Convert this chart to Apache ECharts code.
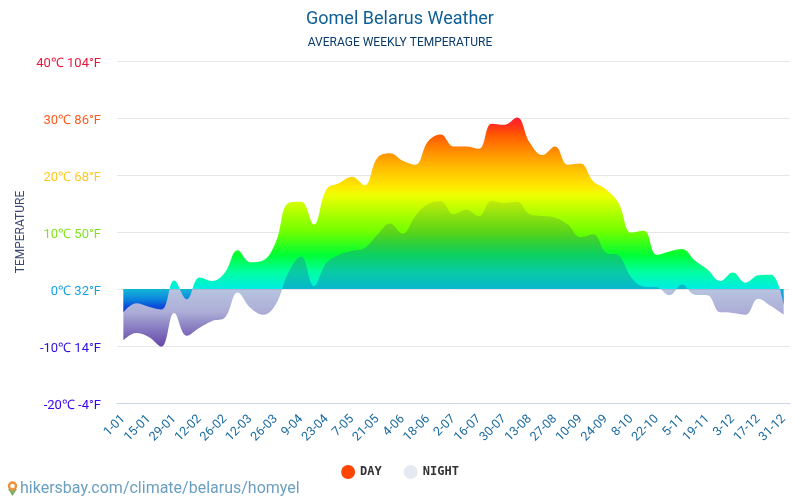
<!DOCTYPE html>
<html>
<head>
<meta charset="utf-8">
<style>html,body{margin:0;padding:0;background:#fff}#chart{width:800px;height:500px}</style>
<script src="https://cdn.jsdelivr.net/npm/echarts@6/dist/echarts.min.js"></script>
</head>
<body>
<div id="chart"></div>
<script>
var weeks = ['1-01','8-01','15-01','22-01','29-01','5-02','12-02','19-02','26-02','5-03','12-03','19-03','26-03',
    '2-04','9-04','16-04','23-04','30-04','7-05','14-05','21-05','28-05','4-06','11-06','18-06','25-06',
    '2-07','9-07','16-07','23-07','30-07','6-08','13-08','20-08','27-08','3-09','10-09','17-09','24-09',
    '1-10','8-10','15-10','22-10','29-10','5-11','12-11','19-11','26-11','3-12','10-12','17-12','24-12','31-12'];

var dayTemp = [-4.1,-2.5,-3.1,-3.6,1.5,-1.8,2.0,1.4,2.9,6.8,4.7,5.0,8.2,
    15.1,15.3,11.3,17.5,18.6,19.7,18.2,23.0,23.8,22.5,21.8,25.9,27.1,
    25.0,25.0,24.6,29.0,28.8,30.1,25.7,23.5,25.0,21.8,22.0,18.9,17.5,
    15.1,9.9,10.2,6.0,6.6,7.0,5.0,3.4,1.4,2.9,1.1,2.4,2.5,-2.7];

var nightTemp = [-9.0,-7.7,-8.4,-10.1,-4.2,-8.2,-6.8,-5.6,-5.0,-0.6,-3.3,-4.5,-2.7,
    2.9,5.7,0.5,4.6,6.0,6.7,7.2,9.5,11.5,9.7,12.8,14.9,15.4,
    13.1,13.9,12.8,15.5,15.1,15.3,13.1,12.8,12.5,11.3,9.1,9.6,6.4,
    5.9,2.0,0.4,0.3,-1.1,0.8,-1.0,-1.1,-4.1,-4.2,-4.5,-1.7,-3.0,-4.5];

var yTicks = {'40':'40℃ 104°F','30':'30℃ 86°F','20':'20℃ 68°F','10':'10℃ 50°F','0':'0℃ 32°F','-10':'-10℃ 14°F','-20':'-20℃ -4°F'};
var yTickColors = {'40':'#e8173c','30':'#ff5a1e','20':'#ffc81e','10':'#82e61e','0':'#18a0e8','-10':'#2a10e0','-20':'#3a00f0'};

var dayStops = [[31,'#ff1744'],[29,'#ff2a20'],[27,'#ff5a00'],[24,'#ff9000'],[21,'#ffc000'],[18,'#ffe800'],[16.5,'#f0ff00'],
    [13,'#a8ff00'],[10,'#70ff00'],[6,'#00ff33'],[3,'#00ffa0'],[0.3,'#00eedd'],[0,'#0fede9'],[-1,'#0fcbff'],[-2,'#00a5ff'],[-3,'#0060ff'],[-4,'#004bfa']];
var nightStops = [[16,'rgba(30,100,60,0.12)'],[10,'rgba(10,40,120,0.2)'],[6,'rgba(40,100,200,0.3)'],[0,'rgba(18,60,150,0.3)'],
    [-4,'rgba(40,40,150,0.38)'],[-10,'rgba(80,40,155,0.85)']];

var gridTop = 61, gridHeight = 342;

// gradient runs over the whole plot height so colour follows the temperature
function tempGradient(stops) {
    return {
        type: 'linear', global: true, x: 0, y: gridTop, x2: 0, y2: gridTop + gridHeight,
        colorStops: stops.map(function (s) {
            return {offset: (40 - s[0]) / 60, color: s[1]};
        })
    };
}

var myChart = echarts.init(document.getElementById('chart'));

myChart.setOption({
    animation: false,
    textStyle: {fontFamily: 'Roboto'},
    title: [
        {text: 'Gomel Belarus Weather', left: 'center', top: 5, textStyle: {color: '#0f5f96', fontSize: 18, fontWeight: 'normal', fontFamily: 'Roboto'}},
        {text: 'AVERAGE WEEKLY TEMPERATURE', left: 'center', top: 32, textStyle: {color: '#0a3d6b', fontSize: 12, fontWeight: 'normal', fontFamily: 'Roboto'}}
    ],
    legend: {
        bottom: 16, left: 'center', itemGap: 22, itemWidth: 14, itemHeight: 14, icon: 'circle',
        textStyle: {color: '#333', fontFamily: 'DejaVu Sans Mono', fontWeight: 'bold', fontSize: 12},
        data: ['DAY', 'NIGHT']
    },
    grid: {left: 117, right: 10, top: gridTop, height: gridHeight},
    xAxis: {
        type: 'category', data: weeks, boundaryGap: true,
        axisLine: {onZero: false, lineStyle: {color: '#ccd6eb'}},
        axisTick: {alignWithLabel: true, interval: 1, length: 10, lineStyle: {color: '#ccd6eb'}},
        axisLabel: {interval: 1, rotate: 45, color: '#1a6a9e', fontSize: 12.5, margin: 14}
    },
    yAxis: {
        type: 'value', min: -20, max: 40, interval: 10,
        name: 'TEMPERATURE', nameLocation: 'middle', nameGap: 90, nameMoveOverlap: false,
        nameTextStyle: {color: '#3c4a70', fontSize: 12},
        axisLine: {show: false}, axisTick: {show: false},
        splitLine: {lineStyle: {color: '#e6e6e6'}},
        axisLabel: {
            margin: 16, fontSize: 13, verticalAlign: 'top', lineHeight: 5,
            formatter: function (v) { return yTicks[v]; },
            color: function (v) { return yTickColors[v]; }
        }
    },
    series: [
        {
            name: 'DAY', type: 'line', data: dayTemp, smooth: 0.4, showSymbol: false,
            itemStyle: {color: '#ff4500'}, lineStyle: {width: 0},
            areaStyle: {color: tempGradient(dayStops), opacity: 1}
        },
        {
            name: 'NIGHT', type: 'line', data: nightTemp, smooth: 0.4, showSymbol: false,
            itemStyle: {color: '#e4eaf2'}, lineStyle: {width: 0},
            areaStyle: {color: tempGradient(nightStops), opacity: 1}
        }
    ],
    graphic: [
        {type: 'text', left: 20, top: 481, style: {text: 'hikersbay.com/climate/belarus/homyel', fill: '#6a9fc0', font: '16px Roboto'}},
        {type: 'polygon', shape: {points: [[8, 489], [17, 489], [12.5, 496]]}, style: {fill: '#7fb069'}},
        {type: 'circle', shape: {cx: 12.5, cy: 486, r: 3.5}, style: {fill: '#fff', stroke: '#f0913a', lineWidth: 2.4}}
    ]
});
</script>
</body>
</html>
